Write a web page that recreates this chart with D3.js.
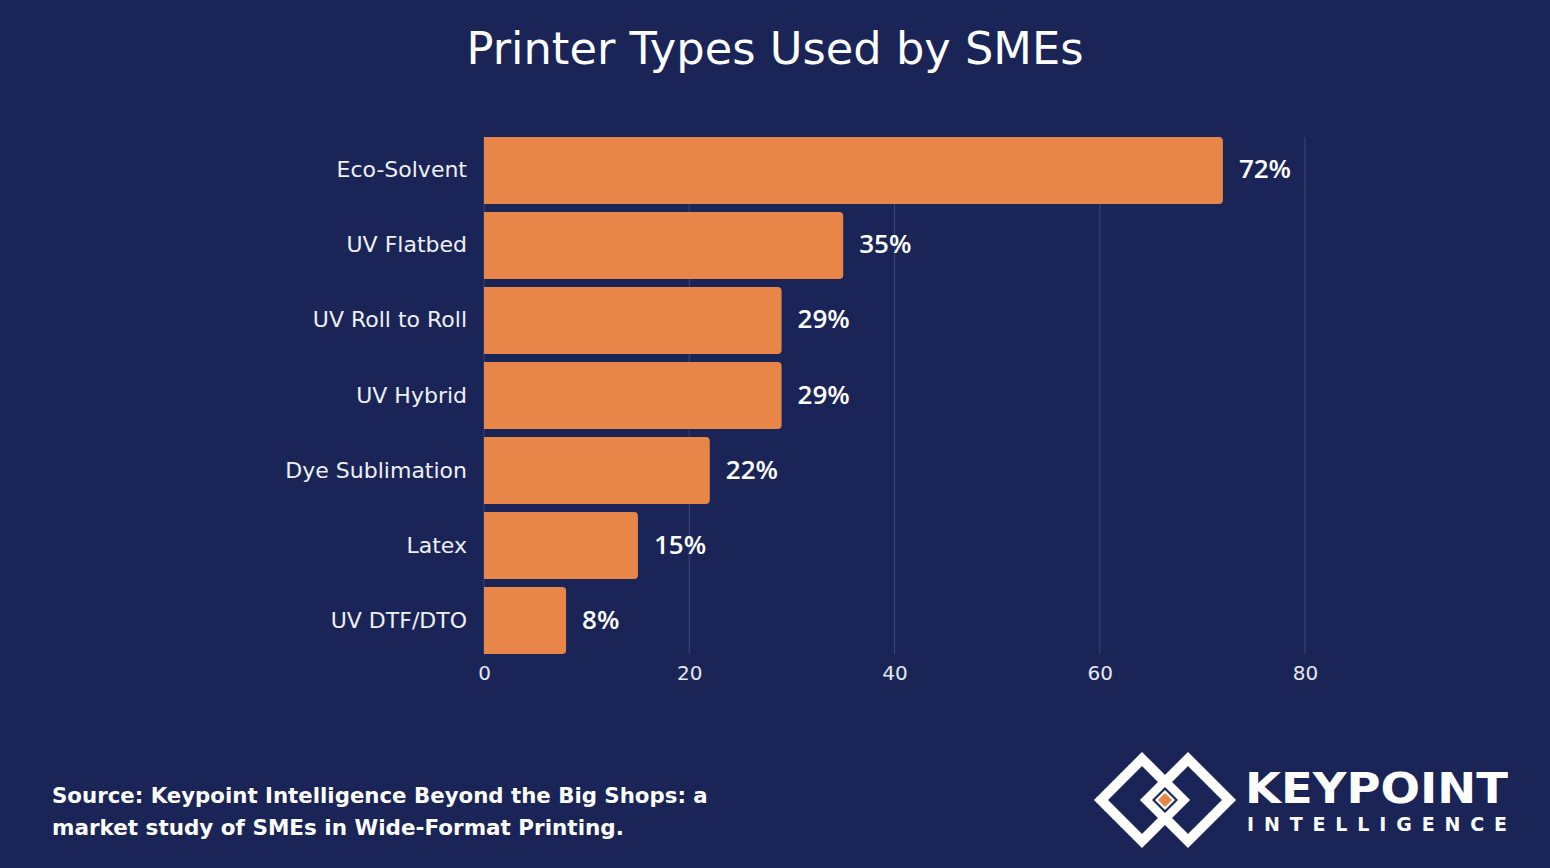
<!DOCTYPE html>
<html><head><meta charset="utf-8">
<script src="https://cdn.jsdelivr.net/npm/d3@7"></script>
<style>
html,body{margin:0;padding:0;background:#1a2457;}
svg{display:block;}
</style></head>
<body>
<svg id="chart" width="1550" height="868"></svg>
<script>
const categories = ["Eco-Solvent","UV Flatbed","UV Roll to Roll","UV Hybrid","Dye Sublimation","Latex","UV DTF/DTO"];
const values = [72,35,29,29,22,15,8];
const valueLabels = ["72%","35%","29%","29%","22%","15%","8%"];
const xTicks = [0,20,40,60,80];
const titleText = "Printer Types Used by SMEs";
const sourceLines = ["Source: Keypoint Intelligence Beyond the Big Shops: a","market study of SMEs in Wide-Format Printing."];

const FONT = "'DejaVu Sans', sans-serif";
const svg = d3.select("#chart");
svg.append("rect").attr("width",1550).attr("height",868).attr("fill","#1a2457");

function fit(sel, w){
  const n = sel.node(); const cur = n.getComputedTextLength();
  const fs = parseFloat(sel.attr("font-size"));
  sel.attr("font-size", fs*w/cur);
}

const x = d3.scaleLinear().domain([0,80]).range([484,1305]);
const y = d3.scaleBand().domain(categories).range([133,658]).paddingInner(0.107).paddingOuter(0.053);

// gridlines
svg.append("g").selectAll("line").data(xTicks).join("line")
  .attr("x1",d=>x(d)).attr("x2",d=>x(d))
  .attr("y1",137).attr("y2",654)
  .attr("stroke","#3a4678").attr("stroke-width",1);

// bars with rounded right corners
const r = 4;
svg.append("g").selectAll("path").data(values).join("path")
  .attr("d",(d,i)=>{
    const x0=x(0), x1=x(d), y0=y(categories[i]), h=y.bandwidth();
    return `M${x0},${y0}H${x1-r}Q${x1},${y0} ${x1},${y0+r}V${y0+h-r}Q${x1},${y0+h} ${x1-r},${y0+h}H${x0}Z`;
  })
  .attr("fill","#e8864a");

// value labels
svg.append("g").selectAll("text").data(values).join("text")
  .attr("x",d=>x(d)+16).attr("y",(d,i)=>y(categories[i])+y.bandwidth()/2+8)
  .attr("fill","#ffffff").attr("font-family","'Open Sans', sans-serif").attr("font-weight",600)
  .attr("font-size",26).text((d,i)=>valueLabels[i]);

// category labels
svg.append("g").selectAll("text").data(categories).join("text")
  .attr("x",467).attr("y",d=>y(d)+y.bandwidth()/2+7)
  .attr("text-anchor","end").attr("fill","#eef0f6")
  .attr("font-family",FONT).attr("font-size",22).text(d=>d);

// x axis
const ax = svg.append("g").attr("transform","translate(0,658)")
  .call(d3.axisBottom(x).tickValues(xTicks).tickSize(0).tickPadding(5));
ax.select(".domain").remove();
ax.selectAll("text").attr("fill","#e6e8f0").attr("font-family",FONT).attr("font-size",20).attr("dy","0.85em");

// title
const t = svg.append("text").attr("x",775).attr("y",64).attr("text-anchor","middle")
  .attr("fill","#ffffff").attr("font-family",FONT).attr("font-weight",500).attr("font-size",44).text(titleText);
fit(t,617);

// source
sourceLines.forEach((s,i)=>{
  const st = svg.append("text").attr("x",52).attr("y",803+i*32).attr("fill","#ffffff")
    .attr("font-family",FONT).attr("font-weight",700).attr("font-size",21).text(s);
  if(i===0) fit(st,656); else fit(st,572);
});

// logo
const logo = svg.append("g");
const dia = (cx,cy,h)=>`M${cx-h},${cy}L${cx},${cy-h}L${cx+h},${cy}L${cx},${cy+h}Z`;
logo.append("path").attr("d",dia(1142,800,41)).attr("fill","none").attr("stroke","#ffffff").attr("stroke-width",10);
logo.append("path").attr("d",dia(1188,800,41)).attr("fill","none").attr("stroke","#ffffff").attr("stroke-width",10);
logo.append("path").attr("d",dia(1165,800,13)).attr("fill","#1a2457");
logo.append("path").attr("d",dia(1165,800,10)).attr("fill","#ffffff");
logo.append("path").attr("d",dia(1165,800,7)).attr("fill","#e8864a");
logo.append("text").attr("x",1245).attr("y",803).attr("fill","#ffffff")
  .attr("font-family",FONT).attr("font-weight",800).attr("font-size",42)
  .attr("textLength",263).attr("lengthAdjust","spacingAndGlyphs").text("KEYPOINT");
logo.append("text").attr("x",1247).attr("y",831).attr("fill","#ffffff")
  .attr("font-family",FONT).attr("font-weight",700).attr("font-size",19)
  .attr("textLength",260).attr("lengthAdjust","spacing").text("INTELLIGENCE");
</script>
</body></html>
